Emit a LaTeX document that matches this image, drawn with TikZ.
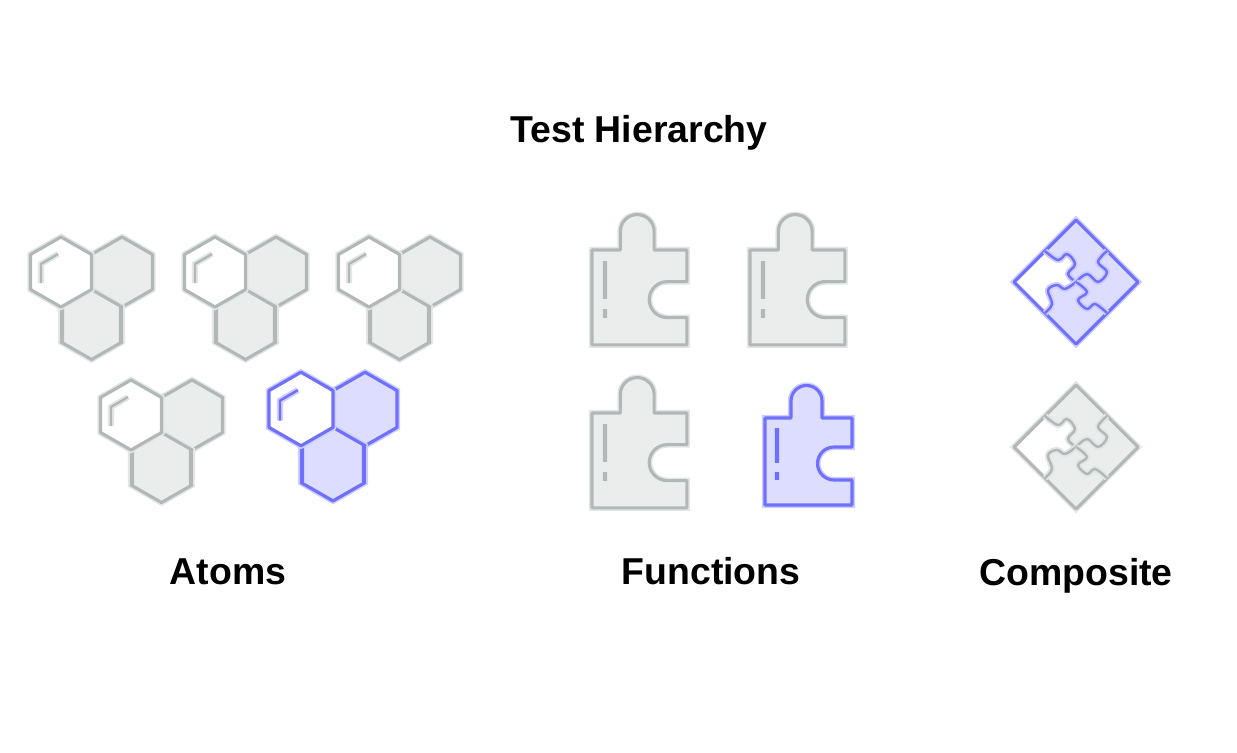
\documentclass[tikz,border=0pt]{standalone}
\usepackage{fontspec}
\setmainfont{Liberation Sans}
\definecolor{greyline}{RGB}{178,184,184}
\definecolor{greyfill}{RGB}{235,237,237}
\definecolor{blueline}{RGB}{112,112,255}
\definecolor{bluefill}{RGB}{221,221,255}
\tikzset{
  heading/.style={font=\fontsize{21.3}{25}\selectfont\bfseries, anchor=base, text=black},
  greyicon/.style={draw=greyline, line width=1.8pt, line join=round, preaction={draw=greyline!35, line width=3.5pt}},
  blueicon/.style={draw=blueline, line width=1.8pt, line join=round, preaction={draw=blueline!35, line width=3.5pt}},
  pics/hexcluster/.style n args={2}{code={
    \filldraw [#1, fill=#2] (61,0) +(0,35) -- +(30.5,17.5) -- +(30.5,-17.5) -- +(0,-35) -- +(-30.5,-17.5) -- +(-30.5,17.5) -- cycle;
    \filldraw [#1, fill=#2] (30.5,-52.5) +(0,35) -- +(30.5,17.5) -- +(30.5,-17.5) -- +(0,-35) -- +(-30.5,-17.5) -- +(-30.5,17.5) -- cycle;
    \draw [#1, line width=2.6pt] (1,-35) -- (1,-70);
    \draw [#1, line width=2.6pt] (60,-35) -- (60,-70);
    \filldraw [#1, fill=white] (0,0) +(0,35) -- +(30.5,17.5) -- +(30.5,-17.5) -- +(0,-35) -- +(-30.5,-17.5) -- +(-30.5,17.5) -- cycle;
    \draw [#1, line width=1.4pt] (-20,-11) -- (-20,8) -- (-3,18);
  }},
  pics/puzzle/.style n args={2}{code={
    \filldraw [#1, fill=#2] (0,0) -- (26,0) -- (26,17) arc (180:0:15.5) -- (57,0) -- (87,0) -- (87,-29)
      -- (69,-29) arc (90:270:16.5) -- (87,-62) -- (87,-87) -- (0,-87) -- cycle;
    \draw [#1, line width=2pt] (12,-10) -- (12,-45);
    \draw [#1, line width=2pt] (12,-54) -- (12,-62);
  }},
  pics/jigsaw/.style n args={2}{code={
    \filldraw [#1, fill=#2] (0,62) -- (62,0) -- (0,-62) -- (-62,0) -- cycle;
    \fill [white] (-59,0) -- (-31,28) -- plot [smooth, tension=0.6] coordinates {(-31,28) (-18,22) (-9,28) (-1,18) (-8,8) (0,0) (-11,-7) (-19,-3) (-28,-8) (-24,-22) (-31,-28)} -- cycle;
    \draw [#1, line width=1.4pt] plot [smooth, tension=0.6] coordinates {(-31,31) (-18,22) (-9,28) (-1,18) (-8,8) (0,0)};
    \draw [#1, line width=1.4pt] plot [smooth, tension=0.6] coordinates {(0,0) (-11,-7) (-19,-3) (-28,-8) (-24,-22) (-31,-31)};
    \draw [#1, line width=1.4pt] plot [smooth, tension=0.6] coordinates {(0,0) (11,8) (22,0) (31,10) (22,20) (31,31)};
    \draw [#1, line width=1.4pt] plot [smooth, tension=0.6] coordinates {(0,0) (11,-10) (2,-18) (11,-27) (19,-22) (31,-31)};
  }}
}

\begin{document}
\begin{tikzpicture}[x=0.02cm, y=0.02cm]
  \useasboundingbox (0,0) rectangle (1237,752);

  \node [heading] (title) at (639,610) {Test Hierarchy};

  % atoms
  \pic (atomone) at (61,480) {hexcluster={greyicon}{greyfill}};
  \pic (atomtwo) at (215,480) {hexcluster={greyicon}{greyfill}};
  \pic (atomthree) at (369,480) {hexcluster={greyicon}{greyfill}};
  \pic (atomfour) at (131,337) {hexcluster={greyicon}{greyfill}};
  \pic [scale=1.05] (atomfive) at (301,343) {hexcluster={blueicon}{bluefill}};
  \node [heading] (atoms) at (228,168) {Atoms};

  % functions
  \pic [scale=1.09] (funcone) at (592,502) {puzzle={greyicon}{greyfill}};
  \pic [scale=1.09] (functwo) at (750,502) {puzzle={greyicon}{greyfill}};
  \pic [scale=1.09] (functhree) at (592,339) {puzzle={greyicon}{greyfill}};
  \pic (funcfour) at (765,334) {puzzle={blueicon}{bluefill}};
  \node [heading] (functions) at (711,168) {Functions};

  % composite
  \pic (compone) at (1076,470) {jigsaw={blueicon}{bluefill}};
  \pic (comptwo) at (1076,305) {jigsaw={greyicon}{greyfill}};
  \node [heading] (composite) at (1076,167) {Composite};
\end{tikzpicture}
\end{document}
